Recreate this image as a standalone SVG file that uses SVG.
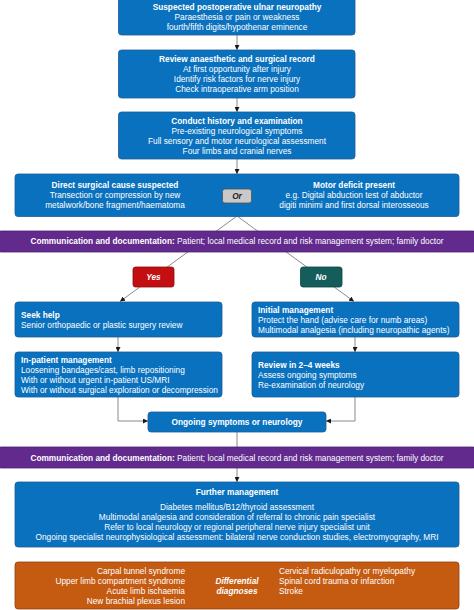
<svg xmlns="http://www.w3.org/2000/svg" width="474" height="610" viewBox="0 0 474 610">
<style>
text{font-family:"Liberation Sans",Arial,sans-serif;font-size:8.3px;fill:#fff}
.b{font-weight:bold}
.bi{font-weight:bold;font-style:italic}
.c{text-anchor:middle}
.e{text-anchor:end}
.blue{fill:#0a71be;stroke:#1b5e96;stroke-width:0.8}
.purple{fill:#612a8c;stroke:#4c1f6e;stroke-width:0.8}
.orange{fill:#c55a11;stroke:#8f4210;stroke-width:0.8}
.ln{fill:none;stroke:#8a8a8a;stroke-width:1}
</style>
<defs>
<marker id="ah" viewBox="0 0 6 6" refX="6" refY="3" markerWidth="5" markerHeight="5" orient="auto" markerUnits="userSpaceOnUse">
<path d="M0,0 L6,3 L0,6 z" fill="#1a1a1a"/>
</marker>
</defs>
<rect width="474" height="610" fill="#fff"/>
<g id="connectors">
<line class="ln" x1="237" y1="35" x2="237" y2="50" marker-end="url(#ah)"/>
<line class="ln" x1="237" y1="98" x2="237" y2="112" marker-end="url(#ah)"/>
<line class="ln" x1="237" y1="159" x2="237" y2="174" marker-end="url(#ah)"/>
<line class="ln" x1="237" y1="216" x2="120" y2="301.5" marker-end="url(#ah)"/>
<line class="ln" x1="237" y1="216" x2="354" y2="301.5" marker-end="url(#ah)"/>
<line class="ln" x1="118" y1="337" x2="118" y2="352" marker-end="url(#ah)"/>
<line class="ln" x1="355" y1="337" x2="355" y2="352" marker-end="url(#ah)"/>
<polyline class="ln" points="118,397 118,421 148,421" marker-end="url(#ah)"/>
<polyline class="ln" points="355,397 355,421 326,421" marker-end="url(#ah)"/>
<line class="ln" x1="237" y1="432" x2="237" y2="482" marker-end="url(#ah)"/>
</g>
<g id="n1">
<rect class="blue" x="118.5" y="-4" width="236.5" height="39" rx="3"/>
<text class="b c" x="237" y="10.3">Suspected postoperative ulnar neuropathy</text>
<text class="c" x="237" y="20.3">Paraesthesia or pain or weakness</text>
<text class="c" x="237" y="30.3">fourth/fifth digits/hypothenar eminence</text>
</g>
<g id="n2">
<rect class="blue" x="118.5" y="50" width="236.5" height="48" rx="3"/>
<text class="b c" x="237" y="62">Review anaesthetic and surgical record</text>
<text class="c" x="237" y="72">At first opportunity after injury</text>
<text class="c" x="237" y="82">Identify risk factors for nerve injury</text>
<text class="c" x="237" y="92">Check intraoperative arm position</text>
</g>
<g id="n3">
<rect class="blue" x="118.5" y="112" width="236.5" height="47" rx="3"/>
<text class="b c" x="237" y="124">Conduct history and examination</text>
<text class="c" x="237" y="134">Pre-existing neurological symptoms</text>
<text class="c" x="237" y="144">Full sensory and motor neurological assessment</text>
<text class="c" x="237" y="154">Four limbs and cranial nerves</text>
</g>
<g id="n4">
<rect class="blue" x="15" y="174" width="444" height="42.5" rx="3"/>
<text class="b c" x="115" y="188">Direct surgical cause suspected</text>
<text class="c" x="115" y="198">Transection or compression by new</text>
<text class="c" x="115" y="208">metalwork/bone fragment/haematoma</text>
<text class="b c" x="354" y="188">Motor deficit present</text>
<text class="c" x="354" y="198">e.g. Digital abduction test of abductor</text>
<text class="c" x="354" y="208">digiti minimi and first dorsal interosseous</text>
</g>
<g id="or">
<rect x="222.5" y="189" width="29" height="14" rx="2.5" fill="#c9c9c9" stroke="#505050" stroke-width="0.8"/>
<text class="bi c" x="237" y="199" style="fill:#222">Or</text>
</g>
<g id="comm1">
<rect class="purple" x="-3" y="231" width="480" height="21" rx="4"/>
<text class="c" x="237" y="244"><tspan class="b">Communication and documentation:</tspan> Patient; local medical record and risk management system; family doctor</text>
</g>
<g id="yes">
<rect x="133" y="267" width="41" height="20" rx="2.5" fill="#c30e12" stroke="#8e0a0c" stroke-width="0.8"/>
<text class="bi c" x="153.5" y="280">Yes</text>
</g>
<g id="no">
<rect x="300.5" y="267" width="41.5" height="20" rx="2.5" fill="#155d5b" stroke="#0e4241" stroke-width="0.8"/>
<text class="bi c" x="321" y="280">No</text>
</g>
<g id="seek">
<rect class="blue" x="15" y="302" width="207" height="35" rx="3"/>
<text class="b" x="21" y="317.5">Seek help</text>
<text x="21" y="327.5">Senior orthopaedic or plastic surgery review</text>
</g>
<g id="initial">
<rect class="blue" x="252" y="302" width="207" height="35" rx="3"/>
<text class="b" x="258" y="312.5">Initial management</text>
<text x="258" y="322.5">Protect the hand (advise care for numb areas)</text>
<text x="258" y="332.5">Multimodal analgesia (including neuropathic agents)</text>
</g>
<g id="inpatient">
<rect class="blue" x="15" y="352" width="207" height="45" rx="3"/>
<text class="b" x="21" y="362.5">In-patient management</text>
<text x="21" y="372.5">Loosening bandages/cast, limb repositioning</text>
<text x="21" y="382.5">With or without urgent in-patient US/MRI</text>
<text x="21" y="392.5">With or without surgical exploration or decompression</text>
</g>
<g id="review">
<rect class="blue" x="252" y="352" width="207" height="45" rx="3"/>
<text class="b" x="258" y="367.5">Review in 2–4 weeks</text>
<text x="258" y="377.5">Assess ongoing symptoms</text>
<text x="258" y="387.5">Re-examination of neurology</text>
</g>
<g id="ongoing">
<rect class="blue" x="148" y="412" width="178" height="20" rx="3"/>
<text class="b c" x="237" y="425">Ongoing symptoms or neurology</text>
</g>
<g id="comm2">
<rect class="purple" x="-3" y="447" width="480" height="21" rx="4"/>
<text class="c" x="237" y="460.5"><tspan class="b">Communication and documentation:</tspan> Patient; local medical record and risk management system; family doctor</text>
</g>
<g id="further">
<rect class="blue" x="15" y="482" width="444" height="65" rx="3"/>
<text class="b c" x="237" y="495">Further management</text>
<text class="c" x="237" y="510">Diabetes mellitus/B12/thyroid assessment</text>
<text class="c" x="237" y="520">Multimodal analgesia and consideration of referral to chronic pain specialist</text>
<text class="c" x="237" y="530">Refer to local neurology or regional peripheral nerve injury specialist unit</text>
<text class="c" x="237" y="540">Ongoing specialist neurophysiological assessment: bilateral nerve conduction studies, electromyography, MRI</text>
</g>
<g id="differential">
<rect class="orange" x="15" y="562" width="444" height="47" rx="3"/>
<text class="e" x="185" y="574">Carpal tunnel syndrome</text>
<text class="e" x="185" y="584">Upper limb compartment syndrome</text>
<text class="e" x="185" y="594">Acute limb ischaemia</text>
<text class="e" x="185" y="604">New brachial plexus lesion</text>
<text class="bi c" x="237" y="584">Differential</text>
<text class="bi c" x="237" y="594">diagnoses</text>
<text x="279" y="574">Cervical radiculopathy or myelopathy</text>
<text x="279" y="584">Spinal cord trauma or infarction</text>
<text x="279" y="594">Stroke</text>
</g>
</svg>
